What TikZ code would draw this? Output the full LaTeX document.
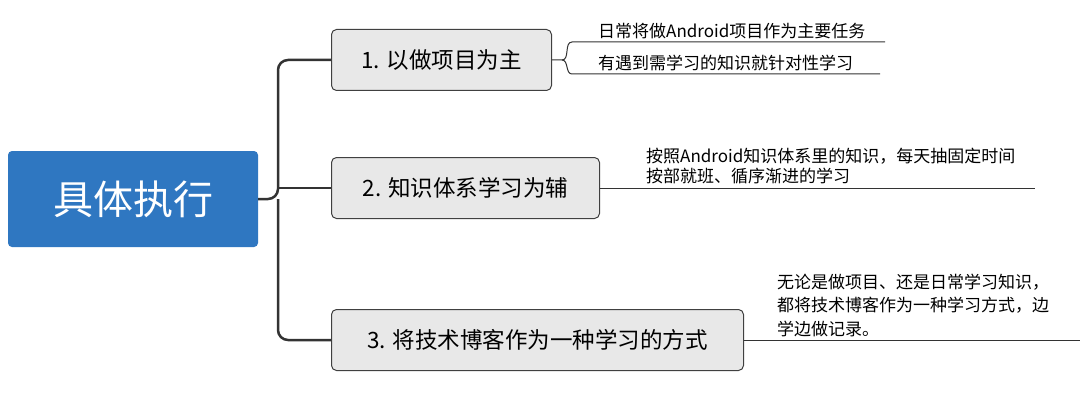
\documentclass[tikz,border=0pt]{standalone}
\usepackage{fontspec}
\setmainfont{Noto Sans CJK SC}
\begin{document}
\begin{tikzpicture}[x=1pt,y=-1pt,
  root/.style={fill=rootblue,rounded corners=4pt,minimum width=250pt,minimum height=96pt,text=white,font=\fontsize{40}{44}\selectfont},
  branch/.style={fill=boxgray,draw=black!75,line width=1pt,rounded corners=5pt,minimum height=61pt,font=\fontsize{22.5}{26}\selectfont,anchor=west},
  conn/.style={draw=black!80,line width=2.5pt,rounded corners=10pt},
  leafline/.style={draw=black!80,line width=1pt},
  leaf/.style={font=\fontsize{17}{21}\selectfont,anchor=south west,inner sep=1pt,align=left}]
\definecolor{rootblue}{HTML}{2F77C1}
\definecolor{boxgray}{HTML}{E8E8E8}
\useasboundingbox (0,0) rectangle (1090,404);
\node[root] (r) at (133,199) {具体执行};
\node[branch,minimum width=220pt] (b1) at (331,60) {1. 以做项目为主};
\node[branch,minimum width=268pt] (b2) at (331,188) {2. 知识体系学习为辅};
\node[branch,minimum width=412pt] (b3) at (331,340) {3. 将技术博客作为一种学习的方式};
\coordinate (j) at (278,199);
\draw[conn] (r.east) -- (j) |- (b1.west);
\draw[conn] (j) |- (b3.west);
\draw[conn,rounded corners=0] (b2.west -| j) -- (b2.west);
% leaves of b1
\coordinate (s1) at (572,42); \coordinate (e1) at (885,42);
\coordinate (s2) at (572,74); \coordinate (e2) at (880,74);
\draw[leafline] (b1.east) -- (562,60) to[out=0,in=180] (s1) -- (e1);
\draw[leafline] (562,60) to[out=0,in=180] (s2) -- (e2);
\node[leaf] (t1) at (597,40) {日常将做Android项目作为主要任务};
\node[leaf] (t2) at (597,72) {有遇到需学习的知识就针对性学习};
% b2
\coordinate (e3) at (1035,188);
\draw[leafline] (b2.east) -- (e3);
\node[leaf,font=\fontsize{17}{20}\selectfont] (t3) at (645,185) {按照Android知识体系里的知识，每天抽固定时间\\按部就班、循序渐进的学习};
% b3
\coordinate (e4) at (1080,340);
\draw[leafline] (b3.east) -- (e4);
\node[leaf,font=\fontsize{17}{23.5}\selectfont] (t4) at (776,338) {无论是做项目、还是日常学习知识，\\都将技术博客作为一种学习方式，边\\学边做记录。};
\end{tikzpicture}
\end{document}
